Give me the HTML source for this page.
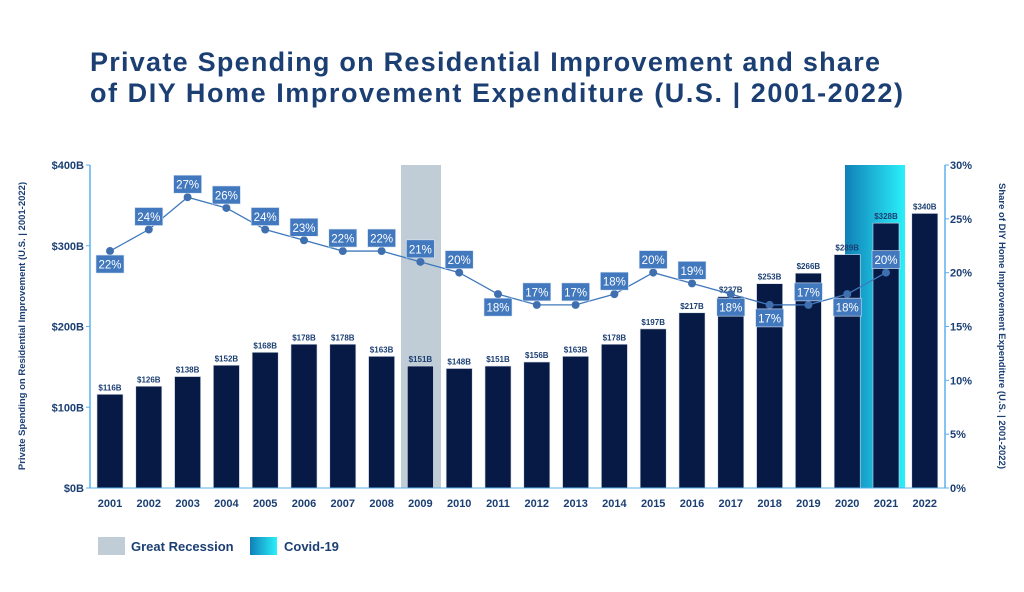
<!DOCTYPE html>
<html><head><meta charset="utf-8"><style>
body{margin:0;background:#fff;width:1024px;height:587px;overflow:hidden;font-family:"Liberation Sans",sans-serif}
</style></head><body>
<svg width="1024" height="587" viewBox="0 0 1024 587" xmlns="http://www.w3.org/2000/svg" font-family="Liberation Sans, sans-serif">
<defs><linearGradient id="cv" x1="0" x2="1"><stop offset="0" stop-color="#1080b8"/><stop offset="1" stop-color="#2af0fa"/></linearGradient></defs>
<text x="90" y="71" font-size="27" font-weight="bold" fill="#1b3f73" textLength="790" lengthAdjust="spacing">Private Spending on Residential Improvement and share</text>
<text x="90" y="102" font-size="27" font-weight="bold" fill="#1b3f73" textLength="813" lengthAdjust="spacing">of DIY Home Improvement Expenditure (U.S. | 2001-2022)</text>
<rect x="401" y="165" width="40" height="323" fill="#c0ccd6"/>
<rect x="845" y="165" width="60" height="323" fill="url(#cv)"/>
<g id="bars"></g>
<line x1="90" y1="165" x2="90" y2="488" stroke="#5ab0ec" stroke-width="1.5"/>
<line x1="945" y1="165" x2="945" y2="488" stroke="#5ab0ec" stroke-width="1.5"/>
<line x1="90" y1="488" x2="945" y2="488" stroke="#5ab0ec" stroke-width="1"/>
<g id="ax" font-size="11" font-weight="bold" fill="#1b3f73"></g>
<text transform="translate(25,326) rotate(-90)" text-anchor="middle" font-size="9.5" font-weight="bold" fill="#1b3f73">Private Spending on Residential Improvement (U.S. | 2001-2022)</text>
<text transform="translate(999,326) rotate(90)" text-anchor="middle" font-size="9.5" font-weight="bold" fill="#1b3f73">Share of DIY Home Improvement Expenditure (U.S. | 2001-2022)</text>
<g id="ln"></g>
<rect x="98" y="537" width="27" height="18" fill="#c0ccd6"/>
<text x="131" y="551" font-size="13" font-weight="bold" fill="#1b3f73">Great Recession</text>
<rect x="250" y="537" width="27" height="18" fill="url(#cv)"/>
<text x="284" y="551" font-size="13" font-weight="bold" fill="#1b3f73">Covid-19</text>
</svg>
<script>
var ns="http://www.w3.org/2000/svg";
function el(p,t,a,txt){var e=document.createElementNS(ns,t);for(var k in a)e.setAttribute(k,a[k]);if(txt!=null)e.textContent=txt;document.getElementById(p).appendChild(e);return e;}
var v=[116,126,138,152,168,178,178,163,151,148,151,156,163,178,197,217,237,253,266,289,328,340];
var p=[22,24,27,26,24,23,22,22,21,20,18,17,17,18,20,19,18,17,17,18,20];
var below=[1,0,0,0,0,0,0,0,0,0,1,0,0,0,0,0,1,1,0,1,0];
function cx(i){return 110+i*38.8;}
for(var i=0;i<22;i++){var x=cx(i),h=v[i]*0.8075,y=488-h;
el("bars","rect",{x:x-13,y:y,width:26,height:h,fill:"#061a45",stroke:"#d0d8e4","stroke-width":0.6});
el("bars","text",{x:x,y:y-4,"font-size":8,"font-weight":"bold",fill:"#1b3f73","text-anchor":"middle"},"$"+v[i]+"B");
el("ax","text",{x:x,y:507,"text-anchor":"middle"},String(2001+i));}
for(var k=0;k<=4;k++){var y=488-k*80.75;el("ax","text",{x:84,y:y+4,"text-anchor":"end"},"$"+(k*100)+"B");el("ax","line",{x1:86,y1:y,x2:90,y2:y,stroke:"#5ab0ec"});}
for(var k=0;k<=6;k++){var y=488-k*53.83;el("ax","text",{x:950,y:y+4},(k*5)+"%");el("ax","line",{x1:945,y1:y,x2:949,y2:y,stroke:"#5ab0ec"});}
var pts=p.map(function(q,i){return cx(i)+","+(488-q*10.77)}).join(" ");
el("ln","polyline",{points:pts,fill:"none",stroke:"#3f78bb","stroke-width":1.3});
for(var i=0;i<p.length;i++){var x=cx(i),y=488-p[i]*10.77;
el("ln","circle",{cx:x,cy:y,r:4,fill:"#3f6fae"});
var by=below[i]?y+4:y-22;
el("ln","rect",{x:x-14,y:by,width:28,height:18,fill:"#4178be",stroke:"#dde6f2","stroke-width":0.6});
el("ln","text",{x:x,y:by+13.5,"font-size":11.5,fill:"#fff","text-anchor":"middle"},p[i]+"%");}
</script>
</body></html>
